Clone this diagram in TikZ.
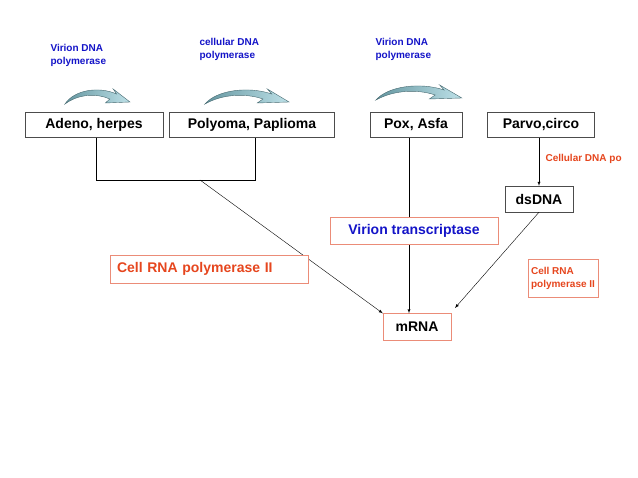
\documentclass[tikz,border=0pt]{standalone}
\usepackage{fontspec}
\setmainfont{Liberation Sans}
\usetikzlibrary{positioning}
\definecolor{vblue}{RGB}{20,20,200}
\definecolor{rorange}{RGB}{230,70,30}
\definecolor{boxred}{RGB}{235,140,120}
\definecolor{tealdark}{RGB}{100,150,160}
\definecolor{teallight}{RGB}{190,225,232}
\newcommand{\bendarrow}[3]{%
  \begin{scope}[shift={(#1,#2)},xscale=#3]
    \shade[left color=tealdark,right color=teallight,draw=tealdark!70!black,line width=0.4pt]
      (0,0) .. controls (8,-14) and (30,-18) .. (46,-10) -- (43,-15) -- (58,-2)
      -- (36,-1) -- (40,-5) .. controls (28,-11) and (12,-10) .. (0,0) -- cycle;
  \end{scope}}
\begin{document}
\begin{tikzpicture}[x=1pt,y=-1pt]
    \tikzstyle{virus}=[rectangle, draw=black!70, fill=white, minimum height=25pt, inner xsep=6pt, font=\fontsize{14}{16}\selectfont\bfseries]
    \tikzstyle{enzyme}=[rectangle, draw=boxred, fill=white, font=\fontsize{14}{16}\selectfont\bfseries]
    \tikzstyle{note}=[align=left, font=\fontsize{10}{13}\selectfont\bfseries]
    \tikzstyle{connect}=[-latex, thin]
    \useasboundingbox (0,0) rectangle (638,478);
      \fill[white] (0,0) rectangle (638,478);
      % virus groups
      \node[virus, minimum width=138pt] (adeno) at (94,125) {Adeno, herpes};
      \node[virus, minimum width=165pt] (polyoma) at (252,125) {Polyoma, Paplioma};
      \node[virus, minimum width=92pt] (pox) at (416,125) {Pox, Asfa};
      \node[virus, minimum width=107pt] (parvo) at (541,125) {Parvo,circo};
      \node[virus, minimum width=68pt, minimum height=26pt] (dsDNA) at (539,199) {dsDNA};
      \node[enzyme, minimum width=68pt, minimum height=27pt] (mRNA) at (417,327) {mRNA};
      % junction of the first two groups
      \coordinate (joinL) at (96,180);
      \coordinate (joinR) at (255,180);
      \coordinate (joinM) at (200,180);
      \draw[thin] (adeno.south -| joinL) -- (joinL) -- (joinR) -- (polyoma.south -| joinR);
      \draw[connect] (joinM) -- (mRNA.north west);
      \draw[connect] (pox.south -| 409,0) -- (mRNA.north -| 409,0);
      \draw[connect] (parvo.south -| dsDNA) -- (dsDNA);
      \draw[connect] (dsDNA.south) -- (455,308);
      % enzymes
      \node[enzyme, text=vblue, minimum width=168pt, minimum height=27pt] (transcriptase) at (414,231) {Virion transcriptase};
      \node[enzyme, text=rorange, minimum width=198pt, minimum height=28pt, align=left, text width=184pt] (rnapol) at (209,269) {Cell RNA polymerase II};
      \node[enzyme, text=rorange, align=left, minimum height=38pt, font=\fontsize{10}{13}\selectfont\bfseries] (rnapolR) at (563,278) {Cell RNA\\polymerase II};
      \node[note, text=rorange, anchor=west] (celldna) at (542,159) {Cellular DNA po};
      \node[note, text=vblue, anchor=west] (virpolA) at (47,55) {Virion DNA\\polymerase};
      \node[note, text=vblue, anchor=west] (cellpol) at (196,49) {cellular DNA\\polymerase};
      \node[note, text=vblue, anchor=west] (virpolB) at (372,49) {Virion DNA\\polymerase};
      % replication arrows
      \bendarrow{65}{104}{1.12}
      \bendarrow{205}{104}{1.45}
      \bendarrow{376}{100}{1.48}
    \end{tikzpicture}
\end{document}
